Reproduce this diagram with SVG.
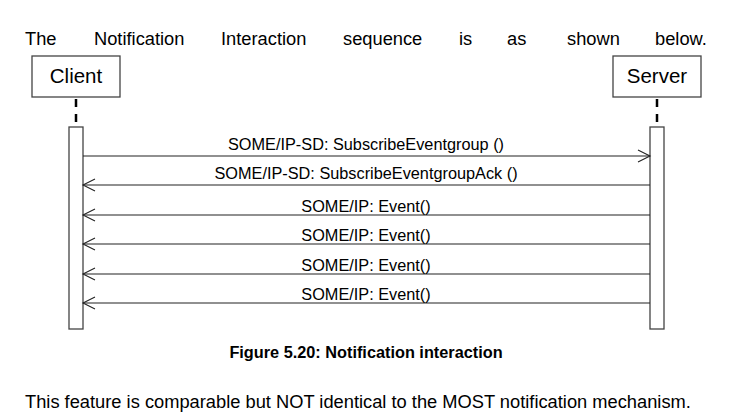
<svg xmlns="http://www.w3.org/2000/svg" width="741" height="420" viewBox="0 0 741 420">
<style>
.t{font-family:"Liberation Sans",Arial,sans-serif;fill:#000}
.body{font-size:18.3px}
.lbl{font-size:16.3px;text-anchor:middle}
.name{font-size:20.5px;text-anchor:middle}
.cap{font-size:16.3px;font-weight:bold;text-anchor:middle}
.box{fill:#fff;stroke:#444;stroke-width:1.3}
.life{stroke:#000;stroke-width:2.5;stroke-dasharray:8 7;fill:none}
.msg{stroke:#222;stroke-width:1.2;fill:none}
.head{stroke:#222;stroke-width:1.1;fill:none}
</style>
<rect width="741" height="420" fill="#fff"/>
<g id="intro" class="t body">
<text x="25" y="45">The</text>
<text x="94" y="45">Notification</text>
<text x="221" y="45">Interaction</text>
<text x="343" y="45">sequence</text>
<text x="459" y="45">is</text>
<text x="507" y="45">as</text>
<text x="567" y="45">shown</text>
<text x="655" y="45">below.</text>
</g>
<g id="client">
<rect class="box" x="32" y="56" width="88" height="41"/>
<text class="t name" x="76" y="83">Client</text>
<line class="life" x1="76" y1="99" x2="76" y2="127"/>
<rect class="box" x="69" y="127" width="14" height="202"/>
</g>
<g id="server">
<rect class="box" x="613" y="56" width="88" height="41"/>
<text class="t name" x="657" y="83">Server</text>
<line class="life" x1="657" y1="99" x2="657" y2="127"/>
<rect class="box" x="650" y="127" width="14" height="202"/>
</g>
<g id="connectors">
<line class="msg" x1="83" y1="156" x2="650" y2="156"/>
<polyline class="head" points="638,150 650,156 638,162"/>
<text class="t lbl" x="366" y="150">SOME/IP-SD: SubscribeEventgroup ()</text>
<line class="msg" x1="650" y1="185" x2="83" y2="185"/>
<polyline class="head" points="95,179 83,185 95,191"/>
<text class="t lbl" x="366" y="179">SOME/IP-SD: SubscribeEventgroupAck ()</text>
<line class="msg" x1="650" y1="215" x2="83" y2="215"/>
<polyline class="head" points="95,209 83,215 95,221"/>
<text class="t lbl" x="366" y="212">SOME/IP: Event()</text>
<line class="msg" x1="650" y1="244" x2="83" y2="244"/>
<polyline class="head" points="95,238 83,244 95,250"/>
<text class="t lbl" x="366" y="241">SOME/IP: Event()</text>
<line class="msg" x1="650" y1="274" x2="83" y2="274"/>
<polyline class="head" points="95,268 83,274 95,280"/>
<text class="t lbl" x="366" y="271">SOME/IP: Event()</text>
<line class="msg" x1="650" y1="303" x2="83" y2="303"/>
<polyline class="head" points="95,297 83,303 95,309"/>
<text class="t lbl" x="366" y="300">SOME/IP: Event()</text>
</g>
<g id="caption">
<text class="t cap" x="366" y="358">Figure 5.20: Notification interaction</text>
</g>
<g id="footer">
<text class="t body" x="25" y="408">This feature is comparable but NOT identical to the MOST notification mechanism.</text>
</g>
</svg>
